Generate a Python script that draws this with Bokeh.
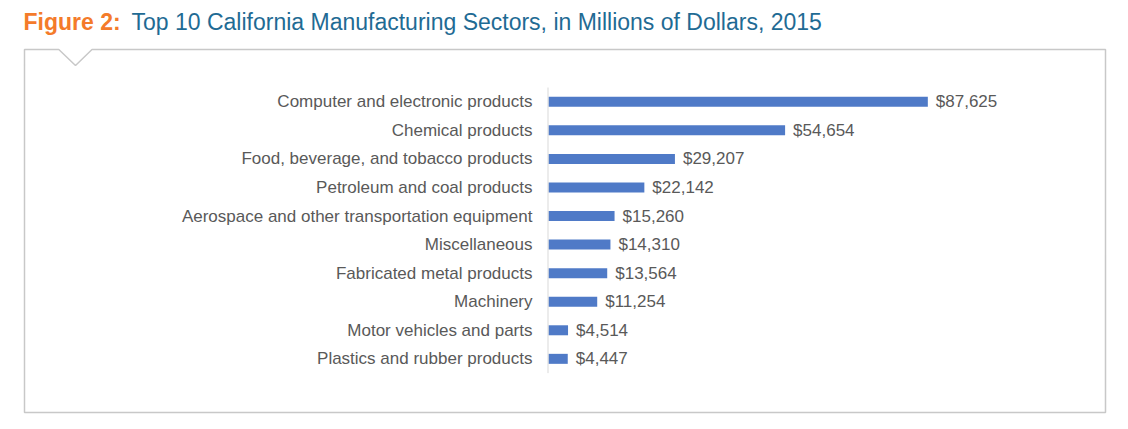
from bokeh.plotting import figure
from bokeh.models import ColumnDataSource, Range1d, Label, PolyAnnotation
from bokeh.core.properties import value
from bokeh.embed import file_html
from bokeh.resources import INLINE

# ---- data ----
sectors = [
    "Computer and electronic products",
    "Chemical products",
    "Food, beverage, and tobacco products",
    "Petroleum and coal products",
    "Aerospace and other transportation equipment",
    "Miscellaneous",
    "Fabricated metal products",
    "Machinery",
    "Motor vehicles and parts",
    "Plastics and rubber products",
]
values = [87625, 54654, 29207, 22142, 15260, 14310, 13564, 11254, 4514, 4447]
title_prefix = "Figure 2:"
title_text = "Top 10 California Manufacturing Sectors, in Millions of Dollars, 2015"

# ---- layout constants ----
W, H = 1128, 429
ZERO_PX = 548.0          # pixel where value 0 sits
PX_PER_UNIT = 0.004329   # pixels per dollar-million
ROW_PX = 28.56
TOP_ROW_PX = 101.3

n = len(sectors)
ypos = [n - 1 - i for i in range(n)]
labels_fmt = ["${:,}".format(v) for v in values]

x_start = -ZERO_PX / PX_PER_UNIT
x_end = (W - ZERO_PX) / PX_PER_UNIT
y_end = (n - 1) + TOP_ROW_PX / ROW_PX
y_start = y_end - H / ROW_PX

src = ColumnDataSource(dict(y=ypos, v=values, name=sectors, lab=labels_fmt,
                            zero=[0] * n))

p = figure(width=W, height=H, output_backend="svg", toolbar_location=None,
           x_range=Range1d(x_start, x_end), y_range=Range1d(y_start, y_end),
           x_axis_location=None, y_axis_location=None, min_border=0)
p.outline_line_color = None
p.grid.visible = False
p.background_fill_color = "white"
p.border_fill_color = "white"

FONT = "Liberation Sans"

# bars
p.hbar(y="y", left="zero", right="v", height=10 / ROW_PX, source=src,
       fill_color="#4F7AC7", line_color=None)

# axis line
half_px = 0.5 / PX_PER_UNIT
p.segment(x0=[-half_px], x1=[-half_px], y0=[min(ypos) - 0.5], y1=[max(ypos) + 0.5],
          line_color="#D9D9D9", line_width=1)

# category labels
p.text(x="zero", y="y", text="name", source=src, x_offset=-16,
       text_align="right", text_baseline="middle", text_color="#595959",
       text_font=value(FONT), text_font_size="17px")

# value labels
p.text(x="v", y="y", text="lab", source=src, x_offset=8,
       text_align="left", text_baseline="middle", text_color="#595959",
       text_font=value(FONT), text_font_size="17px")

# outer box with notch
box = PolyAnnotation(
    xs=[24.0, 58.3, 75.0, 91.5, 1105.0, 1105.0, 24.0],
    ys=[H - 49.0, H - 49.0, H - 65.0, H - 49.0, H - 49.0, H - 412.0, H - 412.0],
    xs_units="screen", ys_units="screen",
    fill_color=None, fill_alpha=0, line_color="#C8C8C8", line_alpha=1.0,
    line_width=1.5)
p.add_layout(box)

# title
t1 = Label(x=23, y=H - 21, x_units="screen", y_units="screen", text=title_prefix,
           text_font=FONT, text_font_style="bold", text_font_size="23px",
           text_color="#F47B2A", text_baseline="alphabetic")
t2 = Label(x=131, y=H - 21, x_units="screen", y_units="screen", text=title_text,
           text_font=FONT, text_font_size="23px",
           text_color="#1F6B94", text_baseline="alphabetic")
p.add_layout(t1)
p.add_layout(t2)

open("out.html", "w").write(file_html(p, INLINE))
